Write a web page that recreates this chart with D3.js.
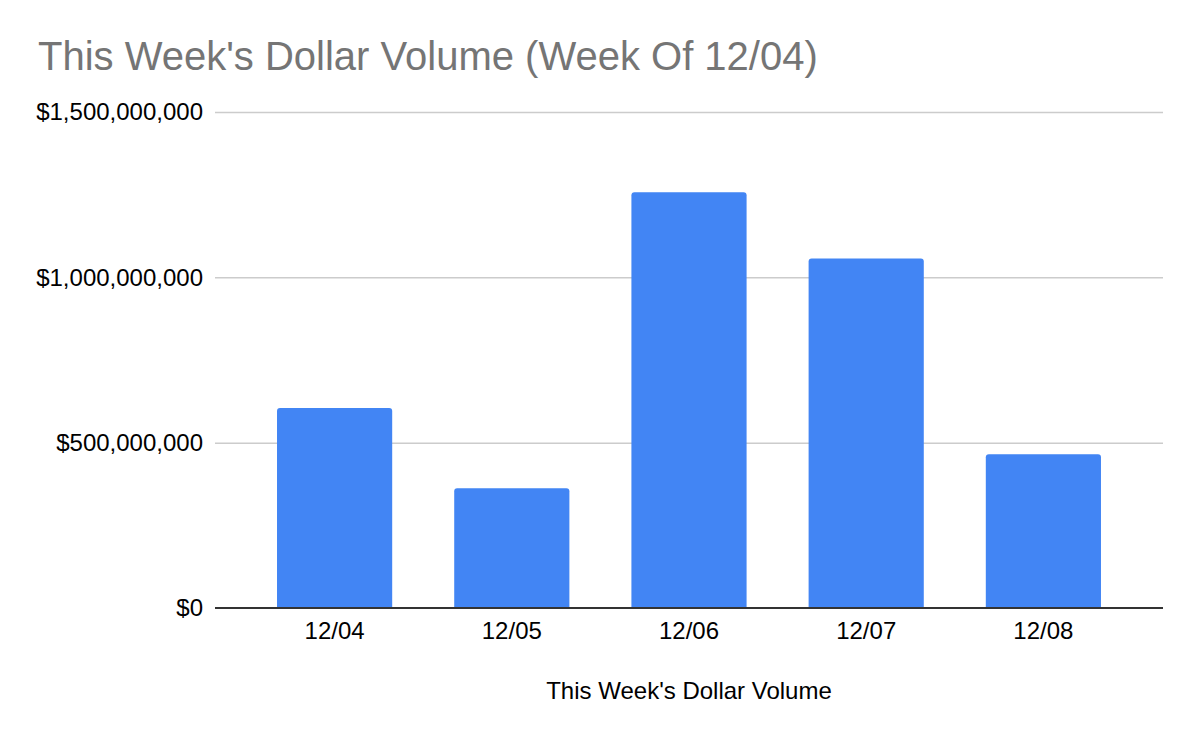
<!DOCTYPE html>
<html>
<head>
<meta charset="utf-8">
<script src="https://cdn.jsdelivr.net/npm/d3@7"></script>
<style>
  html, body { margin: 0; padding: 0; background: #fff; }
  svg { display: block; font-family: "Liberation Sans", Arial, sans-serif; }
</style>
</head>
<body>
<svg id="chart" width="1200" height="742"></svg>
<script>
const categories = ["12/04", "12/05", "12/06", "12/07", "12/08"];
const values = [605000000, 362000000, 1257000000, 1057000000, 465000000];
const yTicks = [0, 500000000, 1000000000, 1500000000];
const titleText = "This Week's Dollar Volume (Week Of 12/04)";
const xAxisTitle = "This Week's Dollar Volume";

const svg = d3.select("#chart");
const margin = { left: 215, right: 37, top: 112, bottom: 134 };
const W = 1200, H = 742;
const plotW = W - margin.left - margin.right;
const plotH = H - margin.top - margin.bottom;

const x = d3.scaleBand().domain(categories).range([margin.left, margin.left + plotW])
  .paddingInner(0.35).paddingOuter(0.35);
const y = d3.scaleLinear().domain([0, 1500000000]).range([margin.top + plotH, margin.top]);

const fmt = v => "$" + d3.format(",")(v);

// title
svg.append("text")
  .attr("x", 38).attr("y", 70)
  .attr("fill", "#757575")
  .attr("font-size", 40)
  .text(titleText);

// gridlines
svg.append("g").selectAll("line")
  .data(yTicks.filter(d => d !== 0))
  .join("line")
  .attr("x1", margin.left).attr("x2", margin.left + plotW)
  .attr("y1", d => y(d) + 0.5).attr("y2", d => y(d) + 0.5)
  .attr("stroke", "#cccccc").attr("stroke-width", 1.5);

// y axis labels
const yAxis = d3.axisLeft(y).tickValues(yTicks).tickFormat(fmt).tickSize(0).tickPadding(12);
const gy = svg.append("g").attr("transform", `translate(${margin.left},0)`).call(yAxis);
gy.select(".domain").remove();
gy.selectAll("text").attr("font-size", 24).attr("fill", "#000").attr("font-family", "Liberation Sans, Arial, sans-serif");

// bars
const r = 3;
svg.append("g").selectAll("path")
  .data(categories.map((c, i) => ({ c, v: values[i] })))
  .join("path")
  .attr("fill", "#4285F4")
  .attr("d", d => {
    const x0 = x(d.c), w = x.bandwidth(), y0 = y(d.v), yb = y(0);
    return `M${x0},${yb} L${x0},${y0 + r} Q${x0},${y0} ${x0 + r},${y0} L${x0 + w - r},${y0} Q${x0 + w},${y0} ${x0 + w},${y0 + r} L${x0 + w},${yb} Z`;
  });

// baseline
svg.append("line")
  .attr("x1", margin.left).attr("x2", margin.left + plotW)
  .attr("y1", y(0)).attr("y2", y(0))
  .attr("stroke", "#333333").attr("stroke-width", 2);

// x axis labels
const xAxis = d3.axisBottom(x).tickSize(0).tickPadding(14);
const gx = svg.append("g").attr("transform", `translate(0,${y(0)})`).call(xAxis);
gx.select(".domain").remove();
gx.selectAll("text").attr("font-size", 24).attr("fill", "#000").attr("font-family", "Liberation Sans, Arial, sans-serif");

// x axis title
svg.append("text")
  .attr("x", margin.left + plotW / 2).attr("y", 699)
  .attr("text-anchor", "middle")
  .attr("font-size", 24).attr("fill", "#000")
  .text(xAxisTitle);
</script>
</body>
</html>
